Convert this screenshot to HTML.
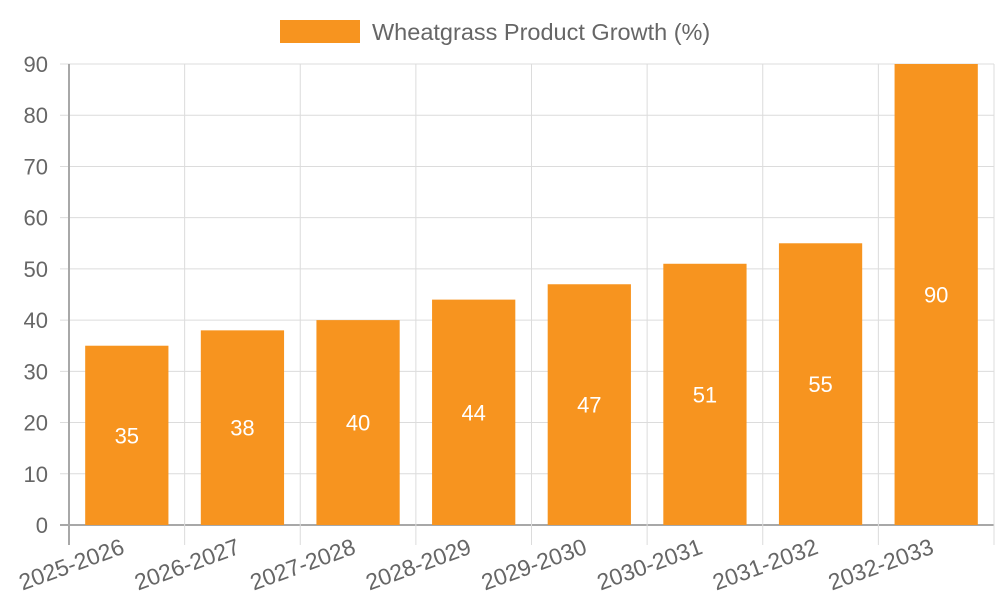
<!DOCTYPE html>
<html><head><meta charset="utf-8"><style>body{margin:0;background:#fff}svg{display:block;font-family:"Liberation Sans",sans-serif}</style></head>
<body>
<svg id="c" width="1000" height="600"></svg>
<script>
const categories=["2025-2026","2026-2027","2027-2028","2028-2029","2029-2030","2030-2031","2031-2032","2032-2033"];
const values=[35,38,40,44,47,51,55,90];
const yTicks=[0,10,20,30,40,50,60,70,80,90];
const seriesName="Wheatgrass Product Growth (%)";
const NS="http://www.w3.org/2000/svg";
const svg=document.getElementById('c');
const L=69,R=994,T=64,B=525,yMax=90;
const y=v=>B-(v/yMax)*(B-T);
const bw=(R-L)/categories.length;
const xc=i=>L+bw*(i+0.5);
function mk(t,a,p){const e=document.createElementNS(NS,t);for(const k in a)e.setAttribute(k,a[k]);(p||svg).appendChild(e);return e;}
yTicks.forEach(v=>{
 const g=mk('line',{x1:60,x2:R,y1:y(v),y2:y(v),stroke:v===0?'#a8a8a8':'#dcdcdc','stroke-width':v===0?2:1});
 
 
 const t=mk('text',{x:48,y:y(v)+8,'text-anchor':'end','font-size':22,fill:'#666'});t.textContent=v;
 
 
});
for(let i=0;i<=categories.length;i++){
 const x=L+bw*i;
 const g=mk('line',{x1:x,x2:x,y1:T,y2:B+20,stroke:i===0?'#a8a8a8':'#dcdcdc','stroke-width':i===0?2:1});
 
 
}
categories.forEach((c,i)=>{
 const w=bw*0.72,x=xc(i)-w/2;
 const r=mk('rect',{x:x,y:y(values[i]),width:w,height:B-y(values[i]),fill:'#f7941f'});
 
 
 const v=mk('text',{x:xc(i),y:(y(values[i])+B)/2+8,'text-anchor':'middle','font-size':22,fill:'#fff'});v.textContent=values[i];
 
 
 const lx=xc(i)-1,ly=553;
 const t=mk('text',{x:lx,y:ly,'text-anchor':'end','font-size':23,fill:'#666',transform:`rotate(-20 ${lx} ${ly})`});t.textContent=c;
 
 
});
const lr=mk('rect',{x:280,y:20,width:80,height:23,fill:'#f7941f'});


const lt=mk('text',{x:372,y:40,'font-size':23.5,fill:'#666'});lt.textContent=seriesName;


</script>
</body></html>
